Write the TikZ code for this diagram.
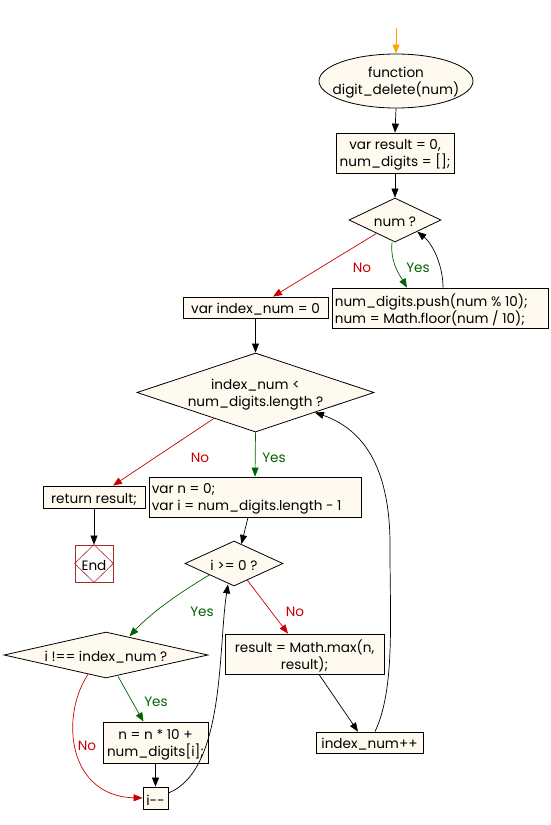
\documentclass[tikz,border=0pt]{standalone}
\usepackage{fontspec}
\setmainfont{Poppins}
\usetikzlibrary{arrows.meta,shapes.geometric,calc}
\definecolor{boxfill}{HTML}{FFFAF0}
\definecolor{nored}{HTML}{CC0000}
\definecolor{yesgreen}{HTML}{006400}
\definecolor{endbrown}{HTML}{A52A2A}
\definecolor{startorange}{HTML}{FFA500}
\tikzset{
  every picture/.style={x=1pt,y=-1pt},
  txt/.style={font=\fontsize{13.6}{17}\selectfont, inner sep=0pt, align=center, yshift=-2pt},
  boxnode/.style={draw, fill=boxfill, line width=0.8pt, inner sep=0pt, rectangle},
  dianode/.style={draw, fill=boxfill, line width=0.8pt, inner sep=0pt, diamond},
  ellnode/.style={draw, fill=boxfill, line width=0.8pt, inner sep=0pt, ellipse},
  conn/.style={line width=0.7pt, -{Triangle[length=9pt,width=7pt]}},
  yesline/.style={conn, draw=yesgreen},
  noline/.style={conn, draw=nored},
  blkline/.style={conn, draw=black},
  yeslbl/.style={txt, text=yesgreen},
  nolbl/.style={txt, text=nored},
}
\begin{document}
\begin{tikzpicture}
\useasboundingbox (0,0) rectangle (551,825);
\fill[white] (0,0) rectangle (551,825);
% nodes
\coordinate (st) at (396,28);
\node[ellnode, minimum width=154pt, minimum height=54pt] (ell) at (396,81) {};
\node[txt] (ellt) at (ell.center) {function\\digit\_delete(num)};
\node[boxnode, minimum width=118pt, minimum height=40pt] (b1) at (395,153) {};
\node[txt] (b1t) at (b1.center) {var result = 0,\\num\_digits = [];};
\node[dianode, minimum width=92pt, minimum height=44pt] (d1) at (395,220) {};
\node[txt] (d1t) at (d1.center) {num ?};
\node[boxnode, minimum width=216pt, minimum height=40pt] (b2) at (440,308) {};
\node[txt, align=left, anchor=west] (b2t) at ($(b2.west)+(3,0)$) {num\_digits.push(num \% 10);\\num = Math.floor(num / 10);};
\node[boxnode, minimum width=145pt, minimum height=21pt] (b3) at (255.5,307.5) {};
\node[txt] (b3t) at (b3.center) {var index\_num = 0};
\node[dianode, minimum width=237pt, minimum height=79pt] (d2) at (255.5,392.5) {};
\node[txt] (d2t) at (d2.center) {index\_num <\\num\_digits.length ?};
\node[boxnode, minimum width=102pt, minimum height=22pt] (b4) at (94,497) {};
\node[txt] (b4t) at (b4.center) {return result;};
\node[boxnode, minimum width=212pt, minimum height=40pt] (b5) at (255,497) {};
\node[txt, align=left, anchor=west] (b5t) at ($(b5.west)+(3,0)$) {var n = 0;\\var i = num\_digits.length - 1};
\node[draw=endbrown, fill=white, line width=0.8pt, minimum width=38pt, minimum height=37pt, inner sep=0pt] (en) at (94,563.5) {};
\draw[endbrown, line width=0.6pt] (en.north) -- (en.east) -- (en.south) -- (en.west) -- cycle;
\node[txt] (ent) at (en.center) {End};
\node[dianode, minimum width=98pt, minimum height=45pt] (d3) at (234,563.5) {};
\node[txt] (d3t) at (d3.center) {i >= 0 ?};
\node[dianode, minimum width=204pt, minimum height=46pt] (d4) at (106,655) {};
\node[txt] (d4t) at (d4.center) {i !== index\_num ?};
\node[boxnode, minimum width=159pt, minimum height=40pt] (b6) at (304.5,654) {};
\node[txt] (b6t) at (b6.center) {result = Math.max(n,\\result);};
\node[boxnode, minimum width=107pt, minimum height=21pt] (b7) at (369.5,742.5) {};
\node[txt] (b7t) at (b7.center) {index\_num++};
\node[boxnode, minimum width=105pt, minimum height=41pt] (b8) at (155.5,742.5) {};
\node[txt] (b8t) at (b8.center) {n = n * 10 +\\num\_digits[i];};
\node[boxnode, minimum width=25pt, minimum height=22pt] (b9) at (155.5,798) {};
\node[txt] (b9t) at (b9.center) {i-{}-};
% connectors
\draw[conn, draw=startorange] (st) -- (ell.north);
\draw[blkline] (ell.south) -- (b1.north);
\draw[blkline] (b1.south) -- (d1.north);
\draw[yesline] ($(d1.south)+(-3,0)$) .. controls +(-2,20) and +(-7,-12) .. ($(b2.north)+(-33,0)$);
\node[yeslbl] (y1) at (418,266) {Yes};
\draw[blkline] ($(b2.north)+(3,0)$) .. controls +(0,-23) and +(15,12) .. ($(d1.east)!0.52!(d1.south)$);
\draw[noline] ($(d1.west)!0.6!(d1.south)$) -- ($(b3.north)+(17.5,0)$);
\node[nolbl] (n1) at (362,266) {No};
\draw[blkline] (b3.south) -- (d2.north);
\draw[noline] ($(d2.west)!0.65!(d2.south)$) -- ($(b4.north)+(19,0)$);
\node[nolbl] (n2) at (200,456) {No};
\draw[yesline] (d2.south) -- (b5.north);
\node[yeslbl] (y2) at (274,456) {Yes};
\draw[blkline] (b4.south) -- (en.north);
\draw[blkline] ($(b5.south)+(-7,0)$) -- ($(d3.north)!0.15!(d3.east)$);
\draw[yesline] ($(d3.west)!0.5!(d3.south)$) .. controls +(-30,18) and +(22,-24) .. ($(d4.north)!0.2!(d4.west)+(44,0)$);
\node[yeslbl] (y3) at (202,610) {Yes};
\draw[noline] ($(d3.east)!0.73!(d3.south)$) -- ($(b6.north)+(-16.5,0)$);
\node[nolbl] (n3) at (295,610) {No};
\draw[yesline] ($(d4.south)+(12,-2)$) -- ($(b8.north)+(-12,0)$);
\node[yeslbl] (y4) at (156,700) {Yes};
\draw[noline] ($(d4.south)+(-18,-4)$) .. controls +(-28,42) and +(-75,-2) .. (b9.west);
\node[nolbl] (n4) at (87,744) {No};
\draw[blkline] (b8.south) -- (b9.north);
\draw[blkline] ($(b9.east)+(0,-5)$) .. controls +(57,-23) and +(-10,63) .. ($(d3.south)+(-6,-2)$);
\draw[blkline] ($(b6.south)+(14.5,0)$) -- ($(b7.north)+(-11.5,0)$);
\draw[blkline] ($(b7.north)+(5.5,0)$) .. controls +(20,-42) and +(0,70) .. (390,550) .. controls (391,470) and (365,430) .. ($(d2.east)!0.5!(d2.south)$);
\end{tikzpicture}
\end{document}
